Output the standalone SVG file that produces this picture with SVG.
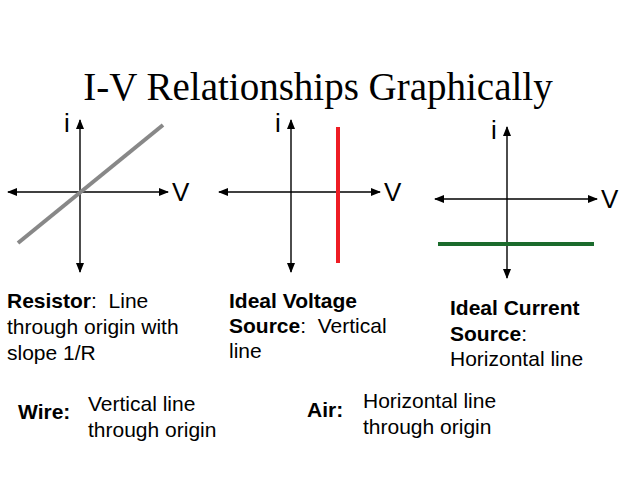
<svg xmlns="http://www.w3.org/2000/svg" width="638" height="478" viewBox="0 0 638 478">
<defs>
<marker id="ah" viewBox="0 0 10 10" refX="9" refY="5" markerWidth="10" markerHeight="10" markerUnits="userSpaceOnUse" orient="auto-start-reverse">
<path d="M0,1 L10,5 L0,9 z" fill="#000"/>
</marker>
<style>
.ax{stroke:#000;stroke-width:1.4;fill:none;marker-start:url(#ah);marker-end:url(#ah)}
.lbl{font-family:"Liberation Sans",Arial,sans-serif;font-size:26px;fill:#000}
.t{font-family:"Liberation Sans",Arial,sans-serif;font-size:21px;fill:#000;white-space:pre}
.b{font-weight:bold}
</style>
</defs>
<rect width="638" height="478" fill="#fff"/>
<text x="318" y="100" text-anchor="middle" font-family="'Liberation Serif','Times New Roman',serif" font-size="39" fill="#000">I-V Relationships Graphically</text>
<g id="connectors">
<line class="ax" x1="80" y1="272" x2="80" y2="120"/>
<line class="ax" x1="8" y1="192" x2="168" y2="192"/>
<line class="ax" x1="291" y1="272" x2="291" y2="120"/>
<line class="ax" x1="219" y1="192" x2="380" y2="192"/>
<line class="ax" x1="507" y1="278" x2="507" y2="127"/>
<line class="ax" x1="435" y1="199" x2="597" y2="199"/>
</g>
<g id="resistor">
<line x1="18" y1="243" x2="163" y2="125" stroke="#888" stroke-width="4"/>
<text class="lbl" x="64" y="132">i</text>
<text class="lbl" x="172" y="201">V</text>
<text class="t" x="7" y="308" xml:space="preserve"><tspan class="b">Resistor</tspan>:  Line</text>
<text class="t" x="7" y="334">through origin with</text>
<text class="t" x="7" y="360">slope 1/R</text>
</g>
<g id="voltage-source">
<line x1="338" y1="127" x2="338" y2="263" stroke="#ee1c24" stroke-width="4"/>
<text class="lbl" x="275" y="132">i</text>
<text class="lbl" x="384" y="201">V</text>
<text class="t b" x="229" y="308">Ideal Voltage</text>
<text class="t" x="229" y="333" xml:space="preserve"><tspan class="b">Source</tspan>:  Vertical</text>
<text class="t" x="229" y="358">line</text>
</g>
<g id="current-source">
<line x1="438" y1="244" x2="594" y2="244" stroke="#1b6b2c" stroke-width="4"/>
<text class="lbl" x="491" y="139">i</text>
<text class="lbl" x="601" y="208">V</text>
<text class="t b" x="450" y="315">Ideal Current</text>
<text class="t" x="450" y="341"><tspan class="b">Source</tspan>:</text>
<text class="t" x="450" y="366">Horizontal line</text>
</g>
<g id="wire">
<text class="t b" x="18" y="419">Wire:</text>
<text class="t" x="88" y="411">Vertical line</text>
<text class="t" x="88" y="437">through origin</text>
</g>
<g id="air">
<text class="t b" x="307" y="417">Air:</text>
<text class="t" x="363" y="408">Horizontal line</text>
<text class="t" x="363" y="434">through origin</text>
</g>
</svg>
